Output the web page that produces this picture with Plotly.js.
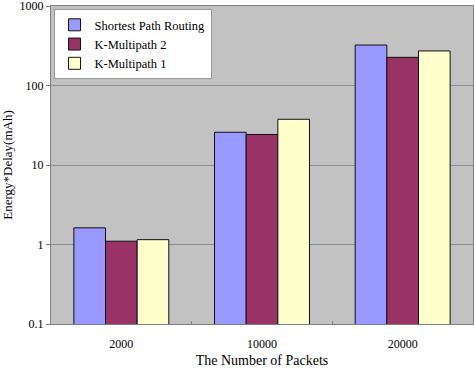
<!DOCTYPE html>
<html>
<head>
<meta charset="utf-8">
<script src="https://cdn.plot.ly/plotly-3.0.1.min.js"></script>
<style>html,body{margin:0;padding:0;background:#fff;}#chart{width:474px;height:368px;}</style>
</head>
<body>
<div id="chart"></div>
<script>
var categories = ["2000", "10000", "20000"];
var shortestPath = [1.62, 25.8, 323];
var kMultipath2 = [1.10, 24.2, 226];
var kMultipath1 = [1.15, 37.6, 272];
var seriesNames = ["Shortest Path Routing", "K-Multipath 2", "K-Multipath 1"];
var yTickVals = [0.1, 1, 10, 100, 1000];
var yTickText = ["0.1", "1", "10", "100", "1000"];

var colors = ["#9999ff", "#993366", "#ffffcc"];
var series = [shortestPath, kMultipath2, kMultipath1];
var traces = series.map(function (vals, i) {
  return {
    type: "bar",
    name: seriesNames[i],
    x: categories,
    y: vals,
    marker: { color: colors[i], line: { color: "#111", width: 1 } }
  };
});

var font = "Liberation Serif, Times New Roman, serif";
var layout = {
  width: 474, height: 368,
  margin: { l: 51, r: 1, t: 6, b: 44 },
  paper_bgcolor: "#ffffff",
  plot_bgcolor: "#c2c2c2",
  barmode: "group",
  bargap: 0.325,
  bargroupgap: 0,
  font: { family: font, size: 12, color: "#000" },
  showlegend: true,
  legend: {
    x: 0.006, y: 0.99, xanchor: "left", yanchor: "top",
    bgcolor: "#ffffff", bordercolor: "#9a9a9a", borderwidth: 1,
    font: { family: font, size: 12.5, color: "#000" },
    tracegroupgap: 0,
    itemwidth: 30
  },
  xaxis: {
    type: "category",
    showline: true, linecolor: "#808080", linewidth: 1, mirror: true,
    ticks: "inside", ticklen: 3, tickcolor: "#808080",
    tickson: "boundaries",
    showgrid: false,
    ticklabelstandoff: 9,
    tickfont: { family: font, size: 12 },
    title: { text: "The Number of Packets", font: { family: font, size: 14 }, standoff: 14 }
  },
  yaxis: {
    type: "log",
    range: [-1, 3],
    tickvals: yTickVals, ticktext: yTickText,
    ticklabeloverflow: "allow",
    showline: true, linecolor: "#808080", linewidth: 1, mirror: true,
    ticks: "outside", ticklen: 4, tickcolor: "#808080",
    showgrid: true, gridcolor: "#8c8c8c", gridwidth: 1,
    zeroline: false,
    tickfont: { family: font, size: 12 },
    title: { text: "Energy*Delay(mAh)", font: { family: font, size: 13 }, standoff: 4 }
  }
};

Plotly.newPlot("chart", traces, layout, { displayModeBar: false, staticPlot: true });
</script>
</body>
</html>
